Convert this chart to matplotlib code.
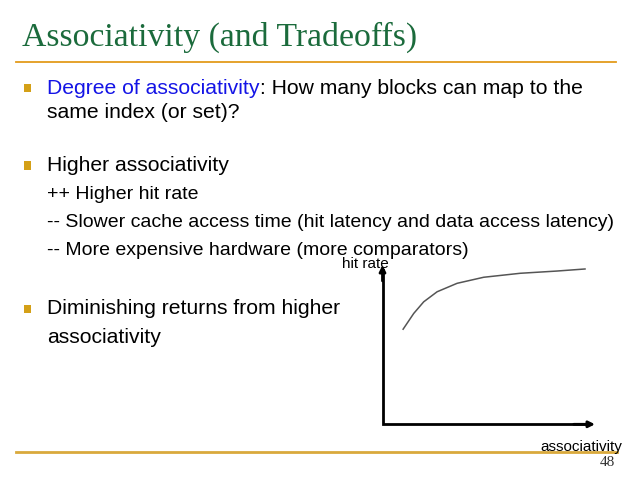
import matplotlib.pyplot as plt

W, H = 638, 478

title = 'Associativity (and Tradeoffs)'
page_no = '48'

# slide bullets: (level, [(text, colour), ...])
bullets = [
    (0, [('Degree of associativity', '#1414E6'), (': How many blocks can map to the', 'black')]),
    (1, [('same index (or set)?', 'black')]),
    (0, [('Higher associativity', 'black')]),
    (1, [('++ Higher hit rate', 'black')]),
    (1, [('-- Slower cache access time (hit latency and data access latency)', 'black')]),
    (1, [('-- More expensive hardware (more comparators)', 'black')]),
    (0, [('Diminishing returns from higher', 'black')]),
    (1, [('associativity', 'black')]),
]
baselines = [93.5, 117.5, 171, 199, 227, 255, 314, 343]
sizes = [15.2, 15.2, 15.2, 14, 14, 14, 15.2, 15.2]

# sketch curve: hit rate vs associativity
assoc = [0.97, 1.47, 1.94, 2.57, 3.51, 4.76, 6.48, 8.20, 9.53]
hit_rate = [0.597, 0.696, 0.769, 0.832, 0.885, 0.923, 0.948, 0.962, 0.975]


def fx(x):
    return x / W


def fy(y):
    return 1 - y / H


fig = plt.figure(figsize=(W / 100, H / 100), dpi=100)
fig.patch.set_facecolor('white')
renderer = fig.canvas.get_renderer()

fig.text(fx(22), fy(45.5), title, family='Liberation Serif', size=24.3,
         color='#1B6B3C', va='baseline', ha='left')
fig.add_artist(plt.Line2D([fx(16), fx(616)], [fy(62), fy(62)], color='#E39B1B', lw=1.3))
fig.add_artist(plt.Line2D([fx(16), fx(617)], [fy(451.7), fy(451.7)], color='#D9A93C', lw=2.0))
fig.text(fx(600), fy(465.5), page_no, family='Liberation Serif', size=11, color='#333333',
         va='baseline', ha='left')

for (level, parts), yb, fs in zip(bullets, baselines, sizes):
    if level == 0:
        fig.patches.append(plt.Rectangle((fx(23.5), fy(yb - 1.5)), 8 / W, 8 / H,
                                         transform=fig.transFigure, color='#D4A017', lw=0))
    x = 47
    for txt, col in parts:
        t = fig.text(fx(x), fy(yb), txt, family='Liberation Sans', size=fs, color=col,
                     va='baseline', ha='left')
        x = t.get_window_extent(renderer).x1

# chart
ax = fig.add_axes([fx(382.5), fy(424.3), (595 - 382.5) / W, (424.3 - 265) / H])
ax.set_xlim(0, 10)
ax.set_ylim(0, 1)
ax.axis('off')
ax.plot([0, 0, 0.97], [0.97, 0, 0], color='black', lw=2.0, transform=ax.transAxes,
        solid_joinstyle='miter', clip_on=False)
ax.annotate('', xy=(0, 1.0), xytext=(0, 0.9), xycoords='axes fraction',
            arrowprops=dict(arrowstyle='-|>', color='black', lw=2.0, mutation_scale=9,
                            shrinkA=0, shrinkB=0))
ax.annotate('', xy=(1.0, 0), xytext=(0.9, 0), xycoords='axes fraction',
            arrowprops=dict(arrowstyle='-|>', color='black', lw=2.0, mutation_scale=9,
                            shrinkA=0, shrinkB=0))
ax.plot(assoc, hit_rate, color='#555555', lw=1.1)

fig.text(fx(341.5), fy(268.5), 'hit rate', family='Liberation Sans', size=11,
         va='baseline', ha='left')
fig.text(fx(540), fy(450.5), 'associativity', family='Liberation Sans', size=11,
         va='baseline', ha='left')

plt.savefig('out.png', dpi=100)
